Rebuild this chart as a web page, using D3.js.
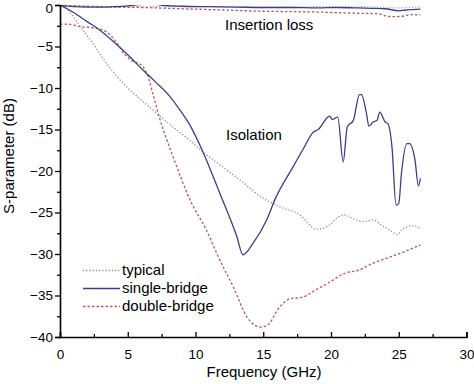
<!DOCTYPE html>
<html>
<head>
<meta charset="utf-8">
<script src="https://cdn.jsdelivr.net/npm/d3@7"></script>
<style>
  body { margin: 0; background: #fff; }
  text { font-family: "Liberation Sans", Arial, sans-serif; }
</style>
</head>
<body>
<script>
const width = 474, height = 384;

// isolation curves (GHz, dB)
const typicalIsoF = [0, 0.5, 1.5, 2.5, 3.2, 4.2, 5.0, 5.9, 7.1, 8.35, 9.5, 10.55, 12.0, 13.3, 15.0, 16.2, 17.7, 18.45, 18.8, 19.4, 19.9, 20.4, 21.0, 21.6, 22.4, 23.1, 23.8, 24.5, 24.9, 25.2, 26.0, 26.6];
const typicalIsoDb = [0, -0.5, -2.6, -4.8, -6.5, -8.6, -10, -11.3, -13, -14.7, -16.2, -17.7, -19.5, -21.1, -23.3, -24.3, -25.3, -26.5, -27, -26.9, -26.5, -25.7, -25.3, -25.7, -26.1, -25.9, -26.6, -27.3, -27.7, -27.1, -26.6, -26.9];

const singleIsoF = [0, 1, 2, 3, 4, 5, 6.1, 7, 8.1, 9, 9.6, 10.55, 11.8, 13.05, 13.5, 14.25, 15.25, 15.9, 17.2, 18.0, 18.7, 19.06, 19.9, 20.1, 20.5, 20.9, 21.2, 21.65, 22.1, 22.25, 22.6, 22.8, 23.1, 23.4, 23.6, 24.0, 24.2, 24.5, 24.8, 25.0, 25.2, 25.6, 25.8, 26.2, 26.45, 26.6];
const singleIsoDb = [0, -0.9, -2.0, -3.1, -4.5, -6.0, -7.8, -9.2, -11, -13, -14.5, -17.7, -22.7, -27.9, -30.1, -28.7, -25.9, -23.3, -19.5, -17.2, -15.3, -15.0, -13.4, -13.8, -13.5, -18.9, -14.7, -13.9, -10.8, -10.8, -12.9, -14.6, -14.1, -13.9, -12.9, -14.1, -14.3, -17.1, -24.1, -23.9, -20.3, -16.7, -16.7, -18.7, -21.8, -20.9];

const doubleIsoF = [0, 0.5, 1.5, 2.7, 3.7, 4.2, 4.7, 5.2, 6.1, 6.5, 6.9, 7.4, 8.35, 9.6, 10.8, 11.7, 12.8, 13.8, 14.8, 15.3, 16.2, 16.97, 17.9, 18.9, 19.9, 20.9, 22.1, 23.1, 24.3, 25.3, 26.6];
const doubleIsoDb = [-2.3, -2.3, -2.6, -2.8, -3.6, -4.6, -5.8, -6.6, -7.4, -8.6, -11, -13.9, -18.3, -23.5, -27.1, -30.4, -34, -37.6, -38.8, -38.6, -36.4, -35.4, -35.2, -34.3, -33.4, -32.4, -31.9, -31.1, -30.4, -29.8, -28.9];

// insertion loss curves
const typicalInsF = [0, 2, 5, 10, 15, 20, 22, 24, 25, 26, 26.6];
const typicalInsDb = [0, -0.15, -0.2, -0.2, -0.25, -0.2, -0.2, -0.3, -0.35, -0.25, -0.3];

const singleInsF = [0, 1, 2, 3, 4, 5, 5.8, 6.5, 7.3, 7.6, 9, 11, 13, 15, 17, 19, 20.5, 22, 23, 24, 25, 25.5, 26, 26.6];
const singleInsDb = [-0.05, -0.2, -0.25, -0.25, -0.2, -0.1, 0.05, 0.1, 0.05, -0.05, -0.15, -0.2, -0.25, -0.3, -0.3, -0.35, -0.3, -0.35, -0.4, -0.45, -0.7, -0.6, -0.55, -0.5];

const doubleInsF = [0, 2, 4, 6, 8, 10, 12, 14.8, 17, 19, 22, 23.5, 24, 24.6, 25.5, 26, 26.6];
const doubleInsDb = [-0.05, -0.15, -0.25, -0.3, -0.4, -0.5, -0.6, -0.75, -0.8, -0.85, -1.0, -1.05, -1.3, -1.4, -1.3, -1.15, -1.2];

const xTicks = [0, 5, 10, 15, 20, 25, 30];
const yTicks = [0, -5, -10, -15, -20, -25, -30, -35, -40];
const legendNames = ["typical", "single-bridge", "double-bridge"];

const colTyp = "#8c8498", colSingle = "#3b3e8a", colDouble = "#b45a5a";

const x = d3.scaleLinear().domain([0, 30]).range([60, 466.5]);
const y = d3.scaleLinear().domain([0, -40]).range([5, 337]);

const svg = d3.select("body").append("svg")
    .attr("width", width)
    .attr("height", height);

svg.append("defs").append("clipPath").attr("id", "plot")
  .append("rect").attr("x", 60).attr("y", 5).attr("width", 407).attr("height", 332);

const line = d3.line().x(d => x(d[0])).y(d => y(d[1])).curve(d3.curveMonotoneX);
const pairs = (f, v) => f.map((d, i) => [d, v[i]]);

const series = [
  {f: typicalInsF, v: typicalInsDb, c: "#a3a3c6", dash: "1.2,2"},
  {f: doubleInsF, v: doubleInsDb, c: colDouble, dash: "2.5,2"},
  {f: singleInsF, v: singleInsDb, c: colSingle, dash: null},
  {f: typicalIsoF, v: typicalIsoDb, c: colTyp, dash: "1.2,2"},
  {f: doubleIsoF, v: doubleIsoDb, c: colDouble, dash: "2.5,2"},
  {f: singleIsoF, v: singleIsoDb, c: colSingle, dash: null}
];

const g = svg.append("g").attr("clip-path", "url(#plot)");
series.forEach(s => {
  g.append("path")
    .attr("d", line(pairs(s.f, s.v)))
    .attr("fill", "none")
    .attr("stroke", s.c)
    .attr("stroke-width", 1.3)
    .attr("stroke-dasharray", s.dash);
});

// axes
svg.append("g").attr("transform", "translate(0,337)")
  .call(d3.axisBottom(x).tickValues(xTicks).tickSize(-5).tickPadding(12).tickFormat(d3.format("d")));
svg.append("g").attr("transform", "translate(0,337)")
  .call(d3.axisBottom(x).tickValues(d3.range(2.5, 30, 5)).tickSize(-3).tickFormat(""))
  .select(".domain").remove();

const yAxis = svg.append("g").attr("transform", "translate(60,0)")
  .call(d3.axisLeft(y).tickValues(yTicks).tickSize(5).tickPadding(2).tickFormat(d3.format("d")));
svg.append("g").attr("transform", "translate(60,0)")
  .call(d3.axisLeft(y).tickValues(d3.range(-2.5, -40, -5)).tickSize(3).tickFormat(""))
  .select(".domain").remove();

svg.selectAll(".domain").attr("stroke", "#000").attr("stroke-width", 1.6);
svg.selectAll(".tick line").attr("stroke", "#000").attr("stroke-width", 1.3);
svg.selectAll(".tick text").style("font-size", "13.5px").attr("fill", "#000");
// keep the top "0" inside the picture
yAxis.selectAll(".tick text").filter(d => d === 0).attr("dy", "0.55em");

// axis titles
svg.append("text")
  .attr("x", 264).attr("y", 377)
  .attr("text-anchor", "middle")
  .style("font-size", "15px")
  .text("Frequency (GHz)");

svg.append("text")
  .attr("transform", "translate(14,156) rotate(-90)")
  .attr("text-anchor", "middle")
  .style("font-size", "15px")
  .text("S-parameter (dB)");

// annotations
svg.append("text").attr("x", 225).attr("y", 30).style("font-size", "15px").text("Insertion loss");
svg.append("text").attr("x", 226).attr("y", 140).style("font-size", "15px").text("Isolation");

// legend
const legColors = [colTyp, colSingle, colDouble];
const legDash = ["1.2,2", null, "2.5,2"];
const leg = svg.append("g");
legendNames.forEach((name, i) => {
  const by = 275 + i * 18;
  leg.append("line")
    .attr("x1", 83).attr("x2", 120)
    .attr("y1", by - 4.5).attr("y2", by - 4.5)
    .attr("stroke", legColors[i])
    .attr("stroke-width", 1.3)
    .attr("stroke-dasharray", legDash[i]);
  leg.append("text")
    .attr("x", 122).attr("y", by)
    .style("font-size", "15px")
    .text(name);
});
</script>
</body>
</html>
